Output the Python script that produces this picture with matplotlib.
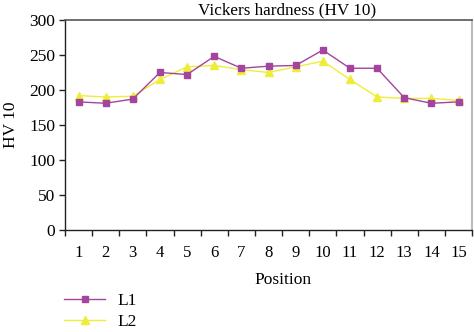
import matplotlib

matplotlib.use("Agg")
import matplotlib.pyplot as plt
from matplotlib.ticker import FixedLocator, NullFormatter

POSITIONS = list(range(1, 16))
L1_VALUES = [183, 181, 187, 225, 222, 248, 231, 234, 235, 257, 231, 231, 189, 181, 183]
L2_VALUES = [192, 190, 191, 215, 233, 235, 229, 225, 233, 241, 215, 190, 188, 188, 185]
Y_TICKS = [0, 50, 100, 150, 200, 250, 300]

L1_COLOR = "#a3449e"
L2_COLOR = "#eeee38"

plt.rcParams["font.family"] = ["Liberation Serif", "DejaVu Serif"]
plt.rcParams["font.size"] = 12

fig = plt.figure(figsize=(4.74, 3.32), dpi=100)
ax = fig.add_axes([0.137, 0.307, 0.859, 0.633])

ax.plot(POSITIONS, L1_VALUES, color=L1_COLOR, marker="s", markersize=5,
        linewidth=1.0, label="L1", zorder=3)
ax.plot(POSITIONS, L2_VALUES, color=L2_COLOR, marker="^", markersize=6,
        linewidth=1.0, label="L2", zorder=2)

ax.set_xlim(0.5, len(POSITIONS) + 0.5)
ax.set_ylim(0, 300)
ax.set_yticks(Y_TICKS)

# category axis: ticks on boundaries, labels in the middle
ax.xaxis.set_major_locator(FixedLocator([p - 0.5 for p in POSITIONS] + [POSITIONS[-1] + 0.5]))
ax.xaxis.set_major_formatter(NullFormatter())
ax.set_xticks(POSITIONS, minor=True)
ax.set_xticklabels([str(p) for p in POSITIONS], minor=True)
ax.tick_params(axis="x", which="minor", length=0, pad=11, labelsize=12)
ax.tick_params(axis="x", which="major", length=4, width=1.0, color="#222222")
ax.tick_params(axis="y", length=4, width=1.0, color="#222222", pad=3, labelsize=12.5)

for side in ("left", "bottom"):
    ax.spines[side].set_color("#222222")
    ax.spines[side].set_linewidth(1.0)
ax.spines["top"].set_color("#555555")
ax.spines["top"].set_linewidth(1.2)
ax.spines["right"].set_color("#bbbbbb")
ax.spines["right"].set_linewidth(1.5)

ax.set_title("Vickers hardness (HV 10)", x=0.545, pad=4, fontsize=12.3)
ax.set_xlabel("Position", fontsize=12.5)
ax.xaxis.set_label_coords(0.535, -0.2)
ax.set_ylabel("HV 10", fontsize=12.5)
ax.yaxis.set_label_coords(-0.112, 0.5)

fig.legend(loc="upper left", bbox_to_anchor=(0.12, 0.14), frameon=False,
           handlelength=2.4, labelspacing=0.3, borderaxespad=0, handletextpad=0.7,
           fontsize=12.5)

fig.savefig("out.png", dpi=100)
